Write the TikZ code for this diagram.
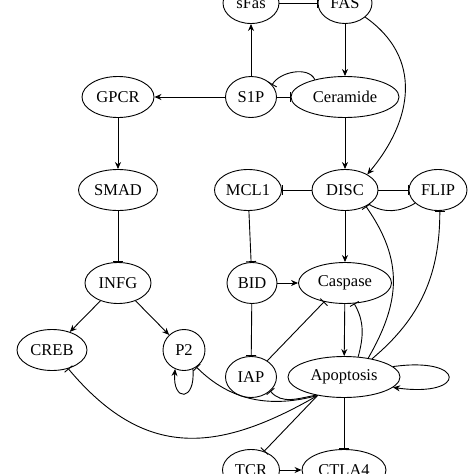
\documentclass[tikz,border=0pt]{standalone}
\usepackage{fontspec}
\setmainfont{Liberation Serif}
\usetikzlibrary{shapes.geometric,arrows.meta}
\begin{document}
\begin{tikzpicture}[x=1pt,y=1pt,line width=0.9pt,
  every node/.style={font=\fontsize{16.5}{18}\selectfont},
  nd/.style={draw,ellipse,inner sep=0pt,minimum height=41pt},
  act/.style={-{Stealth[length=7pt,width=6pt]}},
  inh/.style={-{Bar[width=10pt,line width=0.9pt]}}]
\useasboundingbox (0,0) rectangle (474,-474);
\clip (0,0) rectangle (474,-474);
\node[nd,minimum width=56pt] (sFas) at (251,-3) {sFas};
\node[nd,minimum width=54pt] (FAS) at (345,-3) {FAS};
\node[nd,minimum width=51pt] (S1P) at (251,-97) {S1P};
\node[nd,minimum width=108pt] (Ceramide) at (345,-97) {Ceramide};
\node[nd,minimum width=72pt] (GPCR) at (118,-97) {GPCR};
\node[nd,minimum width=79pt] (SMAD) at (118,-190) {SMAD};
\node[nd,minimum width=67pt] (MCL1) at (248,-190) {MCL1};
\node[nd,minimum width=66pt] (DISC) at (345,-190) {DISC};
\node[nd,minimum width=58pt] (FLIP) at (438,-190) {FLIP};
\node[nd,minimum width=50pt] (BID) at (252,-283) {BID};
\node[nd,minimum width=93pt] (Caspase) at (345,-283) {Caspase};
\node[nd,minimum width=66pt] (INFG) at (118,-283) {INFG};
\node[nd,minimum width=70pt] (CREB) at (52,-350) {CREB};
\node[nd,minimum width=42pt] (P2) at (184,-350) {P2};
\node[nd,minimum width=51pt] (IAP) at (251,-377) {IAP};
\node[nd,minimum width=112pt] (Apoptosis) at (344,-377) {Apoptosis};
\node[nd,minimum width=57pt] (TCR) at (251,-470) {TCR};
\node[nd,minimum width=84pt] (CTLA4) at (344,-470) {CTLA4};

\draw[inh] (sFas) -- (FAS);
\draw[act] (S1P) -- (sFas);
\draw[act] (FAS) -- (Ceramide);
\draw[act] (FAS.-35) to[out=-35,in=50,looseness=1.15] (DISC.35);
\draw[inh] (S1P) -- (Ceramide);
\draw[inh] (Ceramide.150) to[out=115,in=60,looseness=0.9] (S1P.30);
\draw[act] (S1P) -- (GPCR);
\draw[act] (Ceramide) -- (DISC);
\draw[act] (GPCR) -- (SMAD);
\draw[inh] (SMAD) -- (INFG);
\draw[inh] (DISC) -- (MCL1);
\draw[inh] (DISC) -- (FLIP);
\draw (FLIP.-150) to[out=-150,in=-30] (DISC.-31);
\draw[inh] (MCL1) -- (BID);
\draw[act] (DISC) -- (Caspase);
\draw[act] (BID) -- (Caspase);
\draw[inh] (BID) -- (IAP);
\draw[inh] (IAP.45) -- (Caspase.-138);
\draw[act] (Caspase) -- (Apoptosis);
\draw[inh] (Apoptosis.55) to[out=75,in=-60] (Caspase.-66);
\draw[inh] (Apoptosis.38) to[out=60,in=-55,looseness=1.1] (DISC.-38);
\draw[inh] (Apoptosis.33) to[out=40,in=-90,looseness=1] (FLIP.-85);
\draw[act] (Apoptosis.12) to[out=8,in=-8,distance=75pt] (Apoptosis.-12);
\draw[inh] (Apoptosis.-147) to[out=190,in=-50] (IAP.-36);
\draw[inh] (Apoptosis.-145) to[out=-165,in=-45] (P2.-54);
\draw[inh] (Apoptosis.-145) to[out=-150,in=-50,looseness=1.2] (CREB.-49);
\draw[inh] (Apoptosis.-145) -- (TCR.55);
\draw[inh] (Apoptosis) -- (CTLA4);
\draw[act] (TCR) -- (CTLA4);
\draw[act] (INFG) -- (CREB);
\draw[act] (INFG) -- (P2);
\draw[act] (P2.-65) to[out=-85,in=-95,distance=33pt] (P2.-115);
\end{tikzpicture}
\end{document}
